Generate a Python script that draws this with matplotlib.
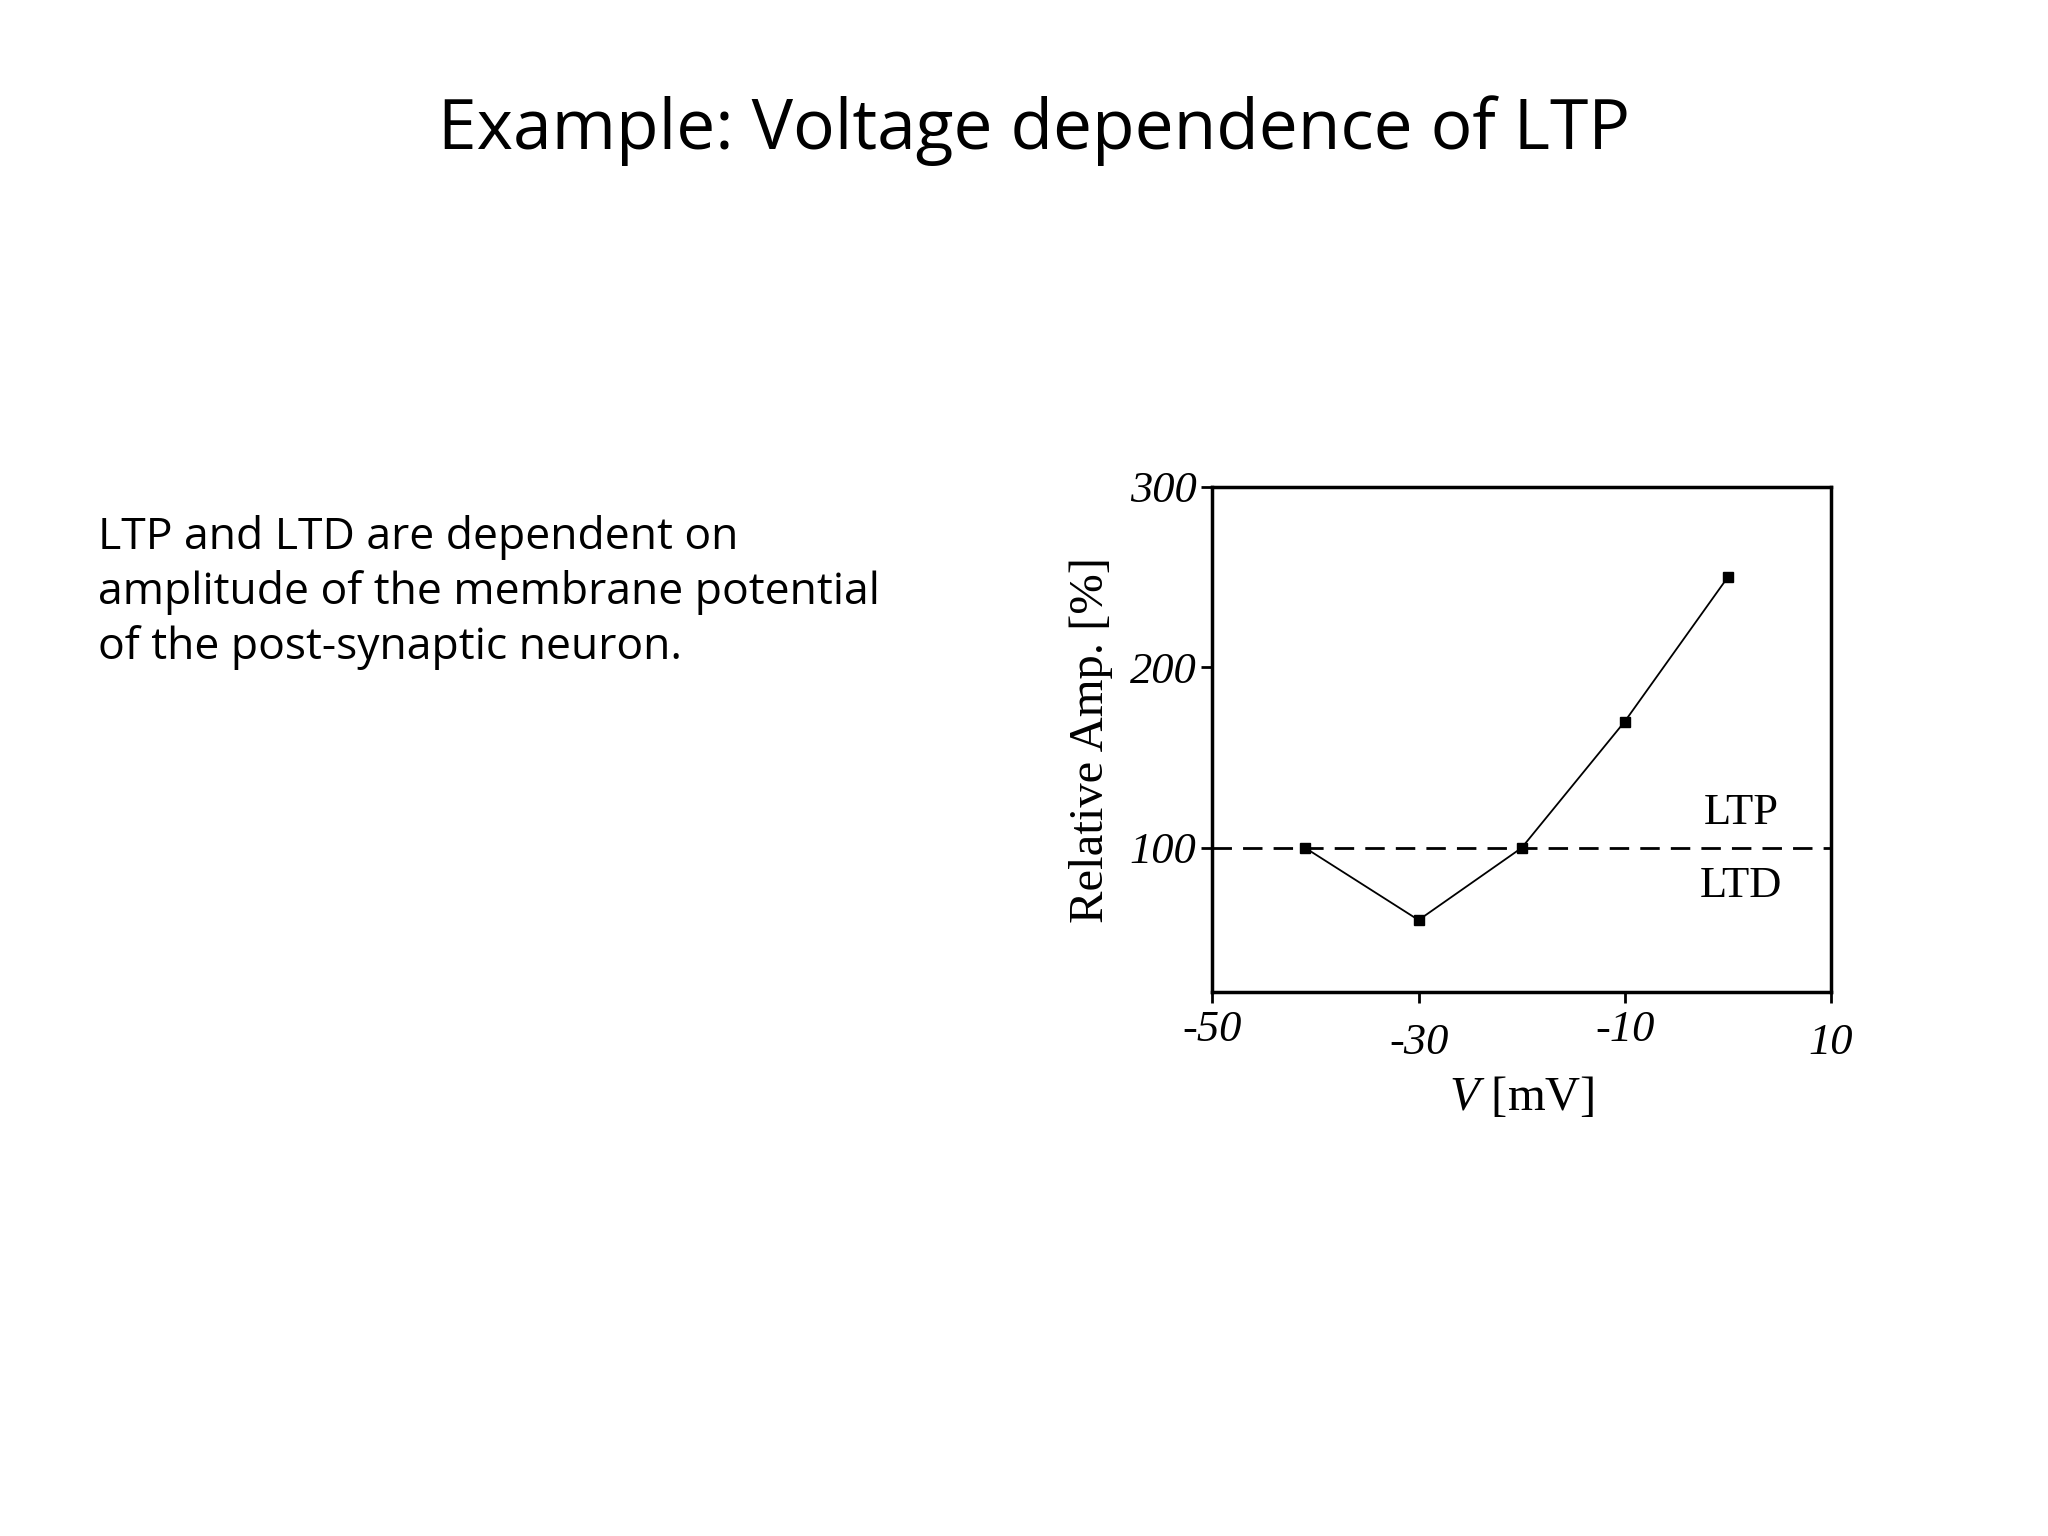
import matplotlib
matplotlib.use("Agg")
import matplotlib.pyplot as plt

plt.rcParams['mathtext.fontset'] = 'custom'
plt.rcParams['mathtext.rm'] = 'Liberation Serif'
plt.rcParams['mathtext.it'] = 'Liberation Serif:italic'

voltage = [-41, -30, -20, -10, 0]
rel_amp = [100, 60, 100, 170, 250]
xticks = [-50, -30, -10, 10]
yticks = [100, 200, 300]

fig = plt.figure(figsize=(20.48, 15.36), dpi=100)
fig.text(0.505, 0.915, "Example: Voltage dependence of LTP", ha="center", va="center",
         fontsize=50, family="Open Sans")
fig.text(0.048, 0.665, "LTP and LTD are dependent on\namplitude of the membrane potential\nof the post-synaptic neuron.",
         ha="left", va="top", fontsize=32, family="Open Sans", linespacing=1.3)

ax = fig.add_axes([0.592, 0.354, 0.302, 0.329])
ax.plot(voltage, rel_amp, color="black", lw=1.3, marker="s", ms=7)
ax.axhline(100, color="black", ls=(0, (7, 4)), lw=2)
ax.set_xlim(-50, 10)
ax.set_ylim(20, 300)
ax.set_xticks(xticks)
ax.set_yticks(yticks)
ax.set_xticklabels([])
ax.set_yticklabels([str(v) for v in yticks], family="Liberation Serif", style="italic", fontsize=32)
for i, v in enumerate(xticks):
    off = -0.075 if i % 2 == 0 else -0.10
    ax.text(v, off, str(v), transform=ax.get_xaxis_transform(), ha="center", va="center",
            family="Liberation Serif", style="italic", fontsize=32)
ax.tick_params(direction="out", length=8, width=2)
for s in ax.spines.values():
    s.set_linewidth(2.5)
ax.set_xlabel("$\\it{V}$ [mV]", family="Liberation Serif", fontsize=35, labelpad=48)
ax.set_ylabel("Relative Amp. [%]", family="Liberation Serif", fontsize=35, labelpad=12)
ax.text(0.855, 0.355, "LTP", transform=ax.transAxes, ha="center", va="center",
        family="Liberation Serif", fontsize=32)
ax.text(0.855, 0.21, "LTD", transform=ax.transAxes, ha="center", va="center",
        family="Liberation Serif", fontsize=32)
fig.savefig("out.png", dpi=100)
